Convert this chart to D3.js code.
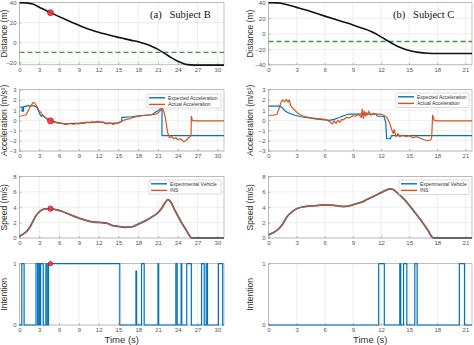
<!DOCTYPE html>
<html>
<head>
<meta charset="utf-8">
<script src="https://cdn.jsdelivr.net/npm/d3@7"></script>
<style>
  body { margin: 0; background: #fff; }
  svg { display: block; font-family: "Liberation Sans", Arial, sans-serif; }
  .tick text { fill: #555; font-size: 6px; }
  .tick line { stroke: #777; }
  .grid line { stroke: #e3e3e3; stroke-width: 0.6; }
</style>
</head>
<body>
<div id="fig"></div>
<script>
// ---- data: subject B (left column) ----
let distB = [[0,40],[1,39.8],[2,38.6],[3,35.5],[4,32.2],[4.7,30],[6,26],[7,23],[8,20],[9,17.3],[10,14.6],[11,12.3],[12,10.2],[13,8.4],[14,6.7],[15,5.1],[16,3.6],[17,2.1],[18,0.6],[19,-1.4],[20,-3.8],[21,-7],[22,-11],[23,-15.3],[24,-19],[25,-21.6],[26,-22.6],[27,-22.8],[31,-22.8]];
let accBExpected = [[0.1,1.3],[0.4,1.3],[0.4,0.9],[0.6,0.9],[0.6,1.35],[1.0,1.35],[1.0,1.42],[2.2,1.42],[2.6,1.3],[2.9,0.9],[3.1,0.6],[3.3,0.4],[3.5,0.5],[3.8,0.3],[4.1,0.2],[4.5,0.0],[5,-0.1],[6,-0.25],[7,-0.35],[8,-0.3],[9,-0.3],[10,-0.2],[11,-0.2],[12,-0.15],[13,-0.25],[14,-0.3],[15,-0.25],[15.5,-0.1],[15.5,0.3],[17,0.35],[18,0.45],[19,0.5],[20,0.55],[20.5,0.75],[21,0.95],[21.3,1.1],[21.6,1.2],[21.6,-1.5],[31,-1.5]];
let accBActual = [[0,0.4],[0.5,0.45],[1,0.55],[1.3,0.9],[1.6,1.3],[1.9,1.6],[2.1,1.75],[2.3,1.7],[2.6,1.4],[2.9,1.0],[3.2,0.8],[3.5,0.5],[3.8,0.35],[4.1,0.15],[4.4,0.05],[4.7,-0.05],[5.0,-0.15],[5.4,-0.2],[5.8,-0.28],[6.2,-0.3],[6.6,-0.32],[7.0,-0.42],[7.4,-0.35],[7.8,-0.3],[8.2,-0.4],[8.6,-0.3],[9.0,-0.35],[9.4,-0.25],[9.8,-0.3],[10.2,-0.2],[10.6,-0.25],[11.0,-0.15],[11.4,-0.22],[11.8,-0.1],[12.2,-0.2],[12.6,-0.15],[13.0,-0.3],[13.4,-0.35],[13.8,-0.25],[14.2,-0.4],[14.6,-0.3],[15.0,-0.25],[15.4,-0.1],[15.8,0.0],[16.2,0.1],[16.6,0.15],[17.0,0.25],[17.4,0.3],[17.8,0.35],[18.2,0.4],[18.6,0.45],[19.0,0.5],[19.4,0.48],[19.8,0.55],[20.2,0.55],[20.6,0.6],[21.0,0.7],[21.4,1.0],[21.7,1.2],[21.9,0.8],[22.1,0.3],[22.3,-0.6],[22.5,-1.3],[22.8,-1.7],[23.1,-1.6],[23.4,-1.8],[23.7,-1.7],[24.0,-1.9],[24.3,-1.8],[24.6,-1.9],[24.9,-2.1],[25.2,-2.0],[25.5,-1.8],[25.8,-1.6],[26.0,-1.5],[26.05,0.4],[26.2,0.0],[26.5,-0.05],[31,-0.05]];
let speedB = [[0,0.2],[0.5,0.5],[1,0.8],[1.5,1.3],[2,2.1],[2.5,2.9],[3,3.4],[3.5,3.7],[4,3.8],[4.7,3.82],[5.5,3.7],[6.5,3.45],[7.5,3.1],[8.5,2.75],[9.5,2.45],[10.5,2.2],[11.5,2.05],[12.5,2.0],[13.3,1.9],[14,1.65],[15,1.5],[16,1.4],[17,1.45],[18,1.8],[19,2.2],[20,2.7],[21,3.3],[21.5,3.8],[22,4.5],[22.5,5.0],[23,4.6],[23.5,3.7],[24,2.9],[24.5,2.1],[25,1.4],[25.5,0.7],[26,0.05],[26.2,0],[31,0]];
// intention pulses: [start, end, level]
let intentB = [[0.35,0.7,1],[2.5,2.75,1],[2.85,3.05,1],[3.2,3.6,1],[4.0,4.2,1],[4.4,15.2,1],[17.65,17.75,0.88],[18.5,18.9,1],[21.0,21.1,1],[23.7,23.9,1],[24.5,24.6,1],[25.35,26.05,1],[27.6,28.0,1],[28.3,28.5,1],[30.15,30.8,1]];
let markB = {t: 4.7, dist: 30, acc: -0.05, speed: 3.82, intent: 1};

// ---- data: subject C (right column) ----
let distC = [[0,40],[1,39.8],[2,37.4],[3,34],[4,30.5],[5,26.6],[6,22.7],[7,18.9],[8,15.2],[9,11.4],[10,7.2],[11,2.5],[12,-4],[13,-11.3],[14,-17.5],[15,-21.6],[16,-24],[17,-25.2],[18,-25.5],[21.7,-25.5]];
let accCExpected = [[0,1.4],[1.2,1.4],[1.5,1.2],[1.8,0.9],[2.2,0.7],[2.8,0.5],[3.5,0.35],[4,0.3],[5,0.15],[5.5,0.1],[6.5,0.0],[7,0.1],[7.5,0.25],[8,0.45],[8.5,0.6],[11.5,0.6],[11.6,0.4],[12.3,0.4],[12.5,-0.2],[12.6,-1.8],[13.0,-1.8],[13.1,-1.5],[21.7,-1.5]];
let accCActual = [[0,0.5],[0.5,0.5],[0.9,0.6],[1.1,1.1],[1.3,1.7],[1.5,2.0],[1.7,1.8],[1.9,2.05],[2.1,1.8],[2.2,2.0],[2.4,1.4],[2.7,1.1],[3,0.8],[3.3,0.6],[3.6,0.45],[4,0.35],[4.5,0.25],[5,0.2],[5.5,0.15],[6,0.1],[6.3,0.0],[6.6,-0.2],[6.8,-0.35],[7.0,-0.05],[7.2,-0.3],[7.4,0.0],[7.6,-0.2],[7.8,0.1],[8,0.05],[8.3,0.3],[8.6,0.25],[9,0.45],[9.3,0.4],[9.6,0.6],[9.9,0.3],[10.0,1.1],[10.1,0.2],[10.2,0.9],[10.3,0.4],[10.4,0.8],[10.5,0.5],[10.7,0.9],[10.9,0.5],[11.2,0.7],[11.5,0.6],[12,0.6],[12.3,0.5],[12.6,0.3],[12.9,-0.2],[13.1,-0.8],[13.3,-1.3],[13.4,-0.9],[13.6,-1.6],[13.8,-1.3],[14,-1.6],[14.3,-1.45],[14.7,-1.6],[15,-1.5],[15.4,-1.7],[15.8,-1.6],[16.2,-1.75],[16.6,-1.9],[17,-2.0],[17.3,-1.9],[17.4,-1.7],[17.5,0.5],[17.7,0.0],[18,-0.05],[21.7,-0.05]];
let speedC = [[0,0.4],[0.5,0.7],[1,1.1],[1.5,1.8],[2,2.8],[2.5,3.4],[3,3.8],[3.5,4.0],[4,4.1],[5,4.2],[6,4.3],[7,4.25],[7.5,4.15],[8,4.1],[8.5,4.15],[9,4.3],[9.5,4.5],[10,4.7],[10.5,5.0],[11,5.3],[11.5,5.6],[12,5.9],[12.5,6.2],[13,6.4],[13.3,6.3],[13.7,5.9],[14.5,5.0],[15.5,3.5],[16.5,1.9],[17,1.0],[17.4,0.2],[17.6,0],[21.7,0]];
let intentC = [[11.75,12.35,1],[14.0,14.1,1],[14.4,14.75,1],[15.6,15.85,1],[20.35,20.9,1]];

let threshold = -10;
let ticksB = d3.range(0, 31, 3);
let ticksC = d3.range(0, 22, 3);

var blue = "#0072BD", orange = "#D95319";

var W = 474, H = 345;
var svg = d3.select("#fig").append("svg")
	.attr("width", W)
	.attr("height", H);

var cols = [
	{x0: 19.5, x1: 224, tmax: 31, ticks: ticksB, labelOff: 13},
	{x0: 268.5, x1: 472, tmax: 21.7, ticks: ticksC, labelOff: 16}
];
var rows = [
	{y0: 2.7, y1: 64.8},
	{y0: 89.7, y1: 151},
	{y0: 176.5, y1: 238},
	{y0: 263.7, y1: 325}
];

// one MATLAB-style axes: grid, box, inward ticks
function panel(col, row, yDomain, yTicks, ylabel) {
	var x = d3.scaleLinear().domain([0, col.tmax]).range([col.x0, col.x1]);
	var y = d3.scaleLinear().domain(yDomain).range([row.y1, row.y0]);
	var g = svg.append("g");
	g.append("g").attr("class", "grid")
		.selectAll("line.gx").data(col.ticks).enter().append("line")
		.attr("x1", d => x(d)).attr("x2", d => x(d))
		.attr("y1", row.y0).attr("y2", row.y1);
	g.append("g").attr("class", "grid")
		.selectAll("line.gy").data(yTicks).enter().append("line")
		.attr("x1", col.x0).attr("x2", col.x1)
		.attr("y1", d => y(d)).attr("y2", d => y(d));

	var xa = g.append("g").attr("transform", "translate(0," + row.y1 + ")")
		.call(d3.axisBottom(x).tickValues(col.ticks).tickSize(-2).tickPadding(3).tickFormat(d3.format("d")));
	var ya = g.append("g").attr("transform", "translate(" + col.x0 + ",0)")
		.call(d3.axisLeft(y).tickValues(yTicks).tickSize(-2).tickPadding(3).tickFormat(d3.format("d")));
	xa.select(".domain").remove();
	ya.select(".domain").remove();
	g.selectAll(".tick line").attr("stroke-width", 0.5);

	g.append("rect")
		.attr("x", col.x0).attr("y", row.y0)
		.attr("width", col.x1 - col.x0).attr("height", row.y1 - row.y0)
		.attr("fill", "none").attr("stroke", "#9a9a9a").attr("stroke-width", 0.6);

	g.append("text")
		.attr("transform", "translate(" + (col.x0 - col.labelOff) + "," + ((row.y0 + row.y1) / 2) + ") rotate(-90)")
		.attr("text-anchor", "middle")
		.attr("font-size", 8.5)
		.attr("fill", "#333")
		.text(ylabel);

	var plot = g.append("g");
	return {x: x, y: y, g: plot};
}

function drawLine(p, data, color, width, curve) {
	var line = d3.line()
		.x(d => p.x(d[0]))
		.y(d => p.y(d[1]))
		.curve(curve || d3.curveLinear);
	p.g.append("path")
		.datum(data)
		.attr("d", line)
		.attr("fill", "none")
		.attr("stroke", color)
		.attr("stroke-width", width)
		.attr("stroke-linejoin", "round");
}

function pulsesToSteps(pulses, tmax) {
	var pts = [[0, 0]];
	pulses.forEach(function(p) {
		pts.push([p[0], 0], [p[0], p[2]], [p[1], p[2]], [p[1], 0]);
	});
	pts.push([tmax, 0]);
	return pts;
}

function legend(x0, y0, w, h, items) {
	var lg = svg.append("g");
	lg.append("rect")
		.attr("x", x0).attr("y", y0).attr("width", w).attr("height", h)
		.attr("fill", "#fff").attr("stroke", "#bbb").attr("stroke-width", 0.5);
	items.forEach(function(it, i) {
		var yy = y0 + 3.8 + i * 6.6;
		lg.append("line")
			.attr("x1", x0 + 2).attr("x2", x0 + 18)
			.attr("y1", yy).attr("y2", yy)
			.attr("stroke", it.color).attr("stroke-width", 1.4);
		lg.append("text")
			.attr("x", x0 + 21).attr("y", yy + 1.8)
			.attr("font-size", 5).attr("fill", "#333")
			.text(it.label);
	});
}

function marker(p, t, v, r) {
	p.g.append("circle")
		.attr("cx", p.x(t)).attr("cy", p.y(v)).attr("r", r)
		.attr("fill", "#e8343c").attr("fill-opacity", 0.85)
		.attr("stroke", "#d01020").attr("stroke-width", 0.8);
}

function threshLine(p, tmax) {
	p.g.append("line")
		.attr("x1", p.x(0)).attr("x2", p.x(tmax))
		.attr("y1", p.y(threshold)).attr("y2", p.y(threshold))
		.attr("stroke", "#3a9a3a").attr("stroke-width", 1.3)
		.attr("stroke-dasharray", "5,3");
}

// ---- subject B ----
var cB = cols[0];
var pDB = panel(cB, rows[0], [-22.5, 40], [-20, 0, 20, 40], "Distance (m)");
threshLine(pDB, cB.tmax);
drawLine(pDB, distB, "#111", 1.6, d3.curveMonotoneX);
marker(pDB, markB.t, markB.dist, 3);

var pAB = panel(cB, rows[1], [-3, 3], d3.range(-3, 4), "Acceleration (m/s²)");
drawLine(pAB, accBExpected, blue, 1.2);
drawLine(pAB, accBActual, orange, 1.2);
marker(pAB, markB.t, markB.acc, 3);

var pSB = panel(cB, rows[2], [0, 8], [0, 2, 4, 6, 8], "Speed (m/s)");
drawLine(pSB, speedB, blue, 1.8, d3.curveMonotoneX);
drawLine(pSB, speedB, orange, 1.2, d3.curveMonotoneX);
marker(pSB, markB.t, markB.speed, 2.6);

var pIB = panel(cB, rows[3], [0, 1], [0, 1], "Intention");
drawLine(pIB, pulsesToSteps(intentB, cB.tmax), blue, 1.2);
marker(pIB, markB.t, markB.intent, 2.2);

// ---- subject C ----
var cC = cols[1];
var pDC = panel(cC, rows[0], [-40, 40], [-40, -20, 0, 20, 40], "Distance (m)");
threshLine(pDC, cC.tmax);
drawLine(pDC, distC, "#111", 1.6, d3.curveMonotoneX);

var pAC = panel(cC, rows[1], [-3, 3], d3.range(-3, 4), "Acceleration (m/s²)");
drawLine(pAC, accCExpected, blue, 1.2);
drawLine(pAC, accCActual, orange, 1.2);

var pSC = panel(cC, rows[2], [0, 8], [0, 2, 4, 6, 8], "Speed (m/s)");
drawLine(pSC, speedC, blue, 1.8, d3.curveMonotoneX);
drawLine(pSC, speedC, orange, 1.2, d3.curveMonotoneX);

var pIC = panel(cC, rows[3], [0, 1], [0, 1], "Intention");
drawLine(pIC, pulsesToSteps(intentC, cC.tmax), blue, 1.2);

// legends
legend(147, 94, 74, 14, [{label: "Expected Acceleration", color: blue}, {label: "Actual Acceleration", color: orange}]);
legend(396, 93, 73, 14.5, [{label: "Expected Acceleration", color: blue}, {label: "Actual Acceleration", color: orange}]);
legend(149, 180, 72, 14, [{label: "Experimental Vehicle", color: blue}, {label: "INS", color: orange}]);
legend(399, 180, 70, 14.5, [{label: "Experimental Vehicle", color: blue}, {label: "INS", color: orange}]);

// titles and x labels
svg.append("text").attr("x", 150).attr("y", 17.5)
	.attr("font-family", "'Liberation Serif', 'Times New Roman', serif")
	.attr("font-size", 10.5).attr("fill", "#111")
	.attr("xml:space", "preserve")
	.text("(a)   Subject B");
svg.append("text").attr("x", 393).attr("y", 17.5)
	.attr("font-family", "'Liberation Serif', 'Times New Roman', serif")
	.attr("font-size", 10.5).attr("fill", "#111")
	.attr("xml:space", "preserve")
	.text("(b)   Subject C");

cols.forEach(function(c) {
	svg.append("text")
		.attr("x", (c.x0 + c.x1) / 2).attr("y", 343)
		.attr("text-anchor", "middle")
		.attr("font-size", 9.5).attr("fill", "#333")
		.text("Time (s)");
});
</script>
</body>
</html>
